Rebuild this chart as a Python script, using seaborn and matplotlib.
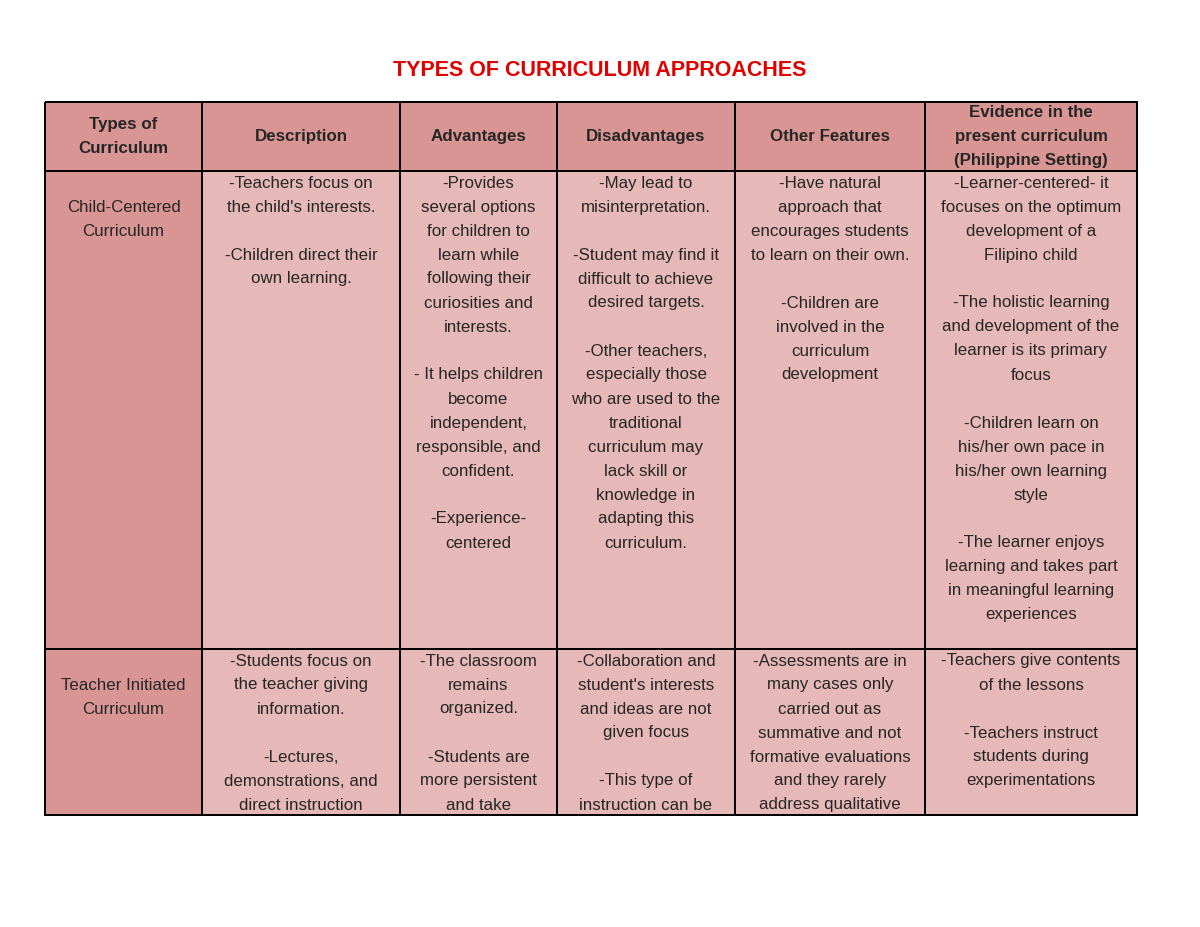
import matplotlib
matplotlib.use("Agg")
import matplotlib.pyplot as plt
import numpy as np
import seaborn as sns

sns.set_theme(style="white")
plt.rcParams['font.family'] = ['Liberation Sans', 'DejaVu Sans']

title = "TYPES OF CURRICULUM APPROACHES"
headers = [
    ["Types of", "Curriculum"],
    ["Description"],
    ["Advantages"],
    ["Disadvantages"],
    ["Other Features"],
    ["Evidence in the", "present curriculum", "(Philippine Setting)"],
]
row1 = [
    ["", "Child-Centered", "Curriculum"],
    ["-Teachers focus on", "the child's interests.", "", "-Children direct their", "own learning."],
    ["-Provides", "several options", "for children to", "learn while", "following their", "curiosities and",
     "interests.", "", "- It helps children", "become", "independent,", "responsible, and", "confident.", "",
     "-Experience-", "centered"],
    ["-May lead to", "misinterpretation.", "", "-Student may find it", "difficult to achieve", "desired targets.", "",
     "-Other teachers,", "especially those", "who are used to the", "traditional", "curriculum may", "lack skill or",
     "knowledge in", "adapting this", "curriculum."],
    ["-Have natural", "approach that", "encourages students", "to learn on their own.", "", "-Children are",
     "involved in the", "curriculum", "development"],
    ["-Learner-centered- it", "focuses on the optimum", "development of a", "Filipino child", "",
     "-The holistic learning", "and development of the", "learner is its primary", "focus", "",
     "-Children learn on", "his/her own pace in", "his/her own learning", "style", "",
     "-The learner enjoys", "learning and takes part", "in meaningful learning", "experiences"],
]
row2 = [
    ["", "Teacher Initiated", "Curriculum"],
    ["-Students focus on", "the teacher giving", "information.", "", "-Lectures,", "demonstrations, and",
     "direct instruction"],
    ["-The classroom", "remains", "organized.", "", "-Students are", "more persistent", "and take"],
    ["-Collaboration and", "student's interests", "and ideas are not", "given focus", "", "-This type of",
     "instruction can be"],
    ["-Assessments are in", "many cases only", "carried out as", "summative and not", "formative evaluations",
     "and they rarely", "address qualitative"],
    ["-Teachers give contents", "of the lessons", "", "-Teachers instruct", "students during",
     "experimentations"],
]

col_edges = np.array([45, 202, 400, 557, 735, 925, 1137])
row_edges = np.array([102, 171, 649, 815])
# 0 = dark header/first column, 1 = light body
shade = np.array([[0, 0, 0, 0, 0, 0],
                  [0, 1, 1, 1, 1, 1],
                  [0, 1, 1, 1, 1, 1]])

fig = plt.figure(figsize=(12, 9.27), dpi=100)
ax = fig.add_axes([0, 0, 1, 1])
cmap = matplotlib.colors.ListedColormap(["#D99594", "#E6B8B7"])
ax.pcolormesh(col_edges, row_edges, shade, cmap=cmap, vmin=-0.5, vmax=1.5,
              edgecolor="black", linewidth=1.2)
ax.set_xlim(0, 1200)
ax.set_ylim(927, 0)
ax.axis("off")

ax.text(600, 70, title, ha="center", va="center", color="#E00000",
        fontsize=15.5, fontweight="bold")

centers = (col_edges[:-1] + col_edges[1:]) / 2
hdr_mid = (row_edges[0] + row_edges[1]) / 2
lh = 24
for cx, lines in zip(centers, headers):
    y0 = hdr_mid - lh * (len(lines) - 1) / 2
    for i, s in enumerate(lines):
        ax.text(cx, y0 + i * lh, s, ha="center", va="center", fontsize=12.2, fontweight="bold")

for top, row in [(row_edges[1], row1), (row_edges[2], row2)]:
    for cx, lines in zip(centers, row):
        for i, s in enumerate(lines):
            ax.text(cx, top + 12 + i * lh, s, ha="center", va="center", fontsize=12.2)

fig.savefig("out.png", dpi=100)
